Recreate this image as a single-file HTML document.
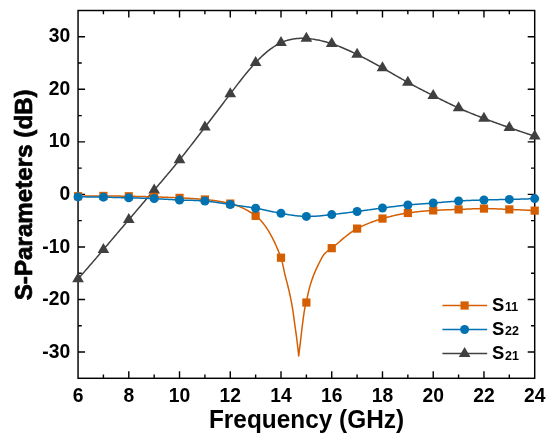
<!DOCTYPE html>
<html><head><meta charset="utf-8"><title>S-Parameters</title>
<style>
html,body{margin:0;padding:0;background:#fff;}
body{width:550px;height:442px;overflow:hidden;}
svg{display:block;}
svg text{font-family:"Liberation Sans",Arial,Helvetica,sans-serif;fill:#000;}
</style></head><body>
<svg width="550" height="442" viewBox="0 0 550 442">
<rect width="550" height="442" fill="#fff"/>
<rect x="78.05" y="10.51" width="456.65" height="367.78" fill="none" stroke="#000" stroke-width="1.45"/>
<path d="M103.42,378.29v-3.7M103.42,10.51v3.7M128.79,378.29v-7.0M128.79,10.51v7.0M154.16,378.29v-3.7M154.16,10.51v3.7M179.53,378.29v-7.0M179.53,10.51v7.0M204.90,378.29v-3.7M204.90,10.51v3.7M230.27,378.29v-7.0M230.27,10.51v7.0M255.64,378.29v-3.7M255.64,10.51v3.7M281.01,378.29v-7.0M281.01,10.51v7.0M306.38,378.29v-3.7M306.38,10.51v3.7M331.74,378.29v-7.0M331.74,10.51v7.0M357.11,378.29v-3.7M357.11,10.51v3.7M382.48,378.29v-7.0M382.48,10.51v7.0M407.85,378.29v-3.7M407.85,10.51v3.7M433.22,378.29v-7.0M433.22,10.51v7.0M458.59,378.29v-3.7M458.59,10.51v3.7M483.96,378.29v-7.0M483.96,10.51v7.0M509.33,378.29v-3.7M509.33,10.51v3.7M78.05,352.02h7.0M534.7,352.02h-7.0M78.05,325.75h3.7M534.7,325.75h-3.7M78.05,299.48h7.0M534.7,299.48h-7.0M78.05,273.21h3.7M534.7,273.21h-3.7M78.05,246.94h7.0M534.7,246.94h-7.0M78.05,220.67h3.7M534.7,220.67h-3.7M78.05,194.40h7.0M534.7,194.40h-7.0M78.05,168.13h3.7M534.7,168.13h-3.7M78.05,141.86h7.0M534.7,141.86h-7.0M78.05,115.59h3.7M534.7,115.59h-3.7M78.05,89.32h7.0M534.7,89.32h-7.0M78.05,63.05h3.7M534.7,63.05h-3.7M78.05,36.78h7.0M534.7,36.78h-7.0" stroke="#000" stroke-width="1.4" fill="none"/>
<path d="M78.05,278.96 L79.19,277.66 L80.34,276.36 L81.48,275.06 L82.63,273.75 L83.77,272.44 L84.92,271.13 L86.06,269.81 L87.21,268.50 L88.35,267.18 L89.49,265.85 L90.64,264.53 L91.78,263.20 L92.93,261.87 L94.07,260.54 L95.22,259.20 L96.36,257.87 L97.51,256.53 L98.65,255.19 L99.80,253.85 L100.94,252.51 L102.08,251.17 L103.23,249.83 L104.37,248.48 L105.52,247.13 L106.66,245.79 L107.81,244.44 L108.95,243.09 L110.10,241.74 L111.24,240.39 L112.38,239.04 L113.53,237.69 L114.67,236.34 L115.82,234.99 L116.96,233.64 L118.11,232.29 L119.25,230.94 L120.40,229.59 L121.54,228.24 L122.68,226.90 L123.83,225.55 L124.97,224.20 L126.12,222.85 L127.26,221.51 L128.41,220.16 L129.55,218.82 L130.70,217.48 L131.84,216.14 L132.99,214.80 L134.13,213.46 L135.27,212.12 L136.42,210.78 L137.56,209.45 L138.71,208.11 L139.85,206.77 L141.00,205.44 L142.14,204.10 L143.29,202.77 L144.43,201.43 L145.57,200.10 L146.72,198.77 L147.86,197.43 L149.01,196.10 L150.15,194.76 L151.30,193.43 L152.44,192.10 L153.59,190.76 L154.73,189.43 L155.88,188.09 L157.02,186.75 L158.16,185.42 L159.31,184.08 L160.45,182.73 L161.60,181.39 L162.74,180.05 L163.89,178.70 L165.03,177.35 L166.18,175.99 L167.32,174.64 L168.46,173.27 L169.61,171.91 L170.75,170.54 L171.90,169.16 L173.04,167.78 L174.19,166.40 L175.33,165.01 L176.48,163.61 L177.62,162.21 L178.76,160.80 L179.91,159.39 L181.05,157.96 L182.20,156.54 L183.34,155.10 L184.49,153.66 L185.63,152.21 L186.78,150.76 L187.92,149.30 L189.07,147.84 L190.21,146.37 L191.35,144.90 L192.50,143.43 L193.64,141.95 L194.79,140.47 L195.93,138.98 L197.08,137.49 L198.22,136.00 L199.37,134.51 L200.51,133.01 L201.65,131.51 L202.80,130.02 L203.94,128.52 L205.09,127.01 L206.23,125.51 L207.38,124.01 L208.52,122.51 L209.67,121.00 L210.81,119.50 L211.95,117.99 L213.10,116.49 L214.24,114.98 L215.39,113.48 L216.53,111.97 L217.68,110.46 L218.82,108.96 L219.97,107.45 L221.11,105.94 L222.26,104.43 L223.40,102.93 L224.54,101.42 L225.69,99.91 L226.83,98.40 L227.98,96.90 L229.12,95.39 L230.27,93.88 L231.41,92.38 L232.56,90.87 L233.70,89.37 L234.84,87.87 L235.99,86.38 L237.13,84.89 L238.28,83.41 L239.42,81.94 L240.57,80.47 L241.71,79.02 L242.86,77.58 L244.00,76.15 L245.14,74.73 L246.29,73.33 L247.43,71.95 L248.58,70.58 L249.72,69.23 L250.87,67.91 L252.01,66.60 L253.16,65.31 L254.30,64.05 L255.45,62.81 L256.59,61.59 L257.73,60.40 L258.88,59.24 L260.02,58.10 L261.17,56.99 L262.31,55.91 L263.46,54.86 L264.60,53.83 L265.75,52.84 L266.89,51.87 L268.03,50.94 L269.18,50.04 L270.32,49.17 L271.47,48.33 L272.61,47.52 L273.76,46.75 L274.90,46.01 L276.05,45.31 L277.19,44.64 L278.34,44.01 L279.48,43.41 L280.62,42.86 L281.77,42.33 L282.91,41.85 L284.06,41.40 L285.20,40.99 L286.35,40.61 L287.49,40.26 L288.64,39.94 L289.78,39.66 L290.92,39.41 L292.07,39.18 L293.21,38.99 L294.36,38.82 L295.50,38.68 L296.65,38.56 L297.79,38.47 L298.94,38.41 L300.08,38.36 L301.22,38.34 L302.37,38.34 L303.51,38.36 L304.66,38.39 L305.80,38.45 L306.95,38.52 L308.09,38.61 L309.24,38.72 L310.38,38.84 L311.53,38.97 L312.67,39.13 L313.81,39.29 L314.96,39.48 L316.10,39.67 L317.25,39.89 L318.39,40.11 L319.54,40.35 L320.68,40.61 L321.83,40.87 L322.97,41.16 L324.11,41.45 L325.26,41.76 L326.40,42.08 L327.55,42.41 L328.69,42.75 L329.84,43.11 L330.98,43.47 L332.13,43.85 L333.27,44.24 L334.41,44.64 L335.56,45.05 L336.70,45.48 L337.85,45.91 L338.99,46.35 L340.14,46.80 L341.28,47.26 L342.43,47.73 L343.57,48.21 L344.72,48.69 L345.86,49.19 L347.00,49.69 L348.15,50.20 L349.29,50.71 L350.44,51.24 L351.58,51.77 L352.73,52.31 L353.87,52.85 L355.02,53.40 L356.16,53.95 L357.30,54.52 L358.45,55.08 L359.59,55.65 L360.74,56.23 L361.88,56.81 L363.03,57.40 L364.17,57.99 L365.32,58.58 L366.46,59.18 L367.61,59.78 L368.75,60.39 L369.89,61.00 L371.04,61.62 L372.18,62.24 L373.33,62.86 L374.47,63.48 L375.62,64.11 L376.76,64.74 L377.91,65.38 L379.05,66.02 L380.19,66.66 L381.34,67.30 L382.48,67.95 L383.63,68.60 L384.77,69.25 L385.92,69.90 L387.06,70.55 L388.21,71.21 L389.35,71.87 L390.49,72.52 L391.64,73.18 L392.78,73.84 L393.93,74.49 L395.07,75.15 L396.22,75.81 L397.36,76.46 L398.51,77.12 L399.65,77.77 L400.80,78.42 L401.94,79.07 L403.08,79.71 L404.23,80.35 L405.37,80.99 L406.52,81.63 L407.66,82.26 L408.81,82.89 L409.95,83.52 L411.10,84.14 L412.24,84.75 L413.38,85.37 L414.53,85.98 L415.67,86.59 L416.82,87.19 L417.96,87.79 L419.11,88.39 L420.25,88.99 L421.40,89.59 L422.54,90.18 L423.68,90.77 L424.83,91.36 L425.97,91.94 L427.12,92.53 L428.26,93.11 L429.41,93.70 L430.55,94.28 L431.70,94.86 L432.84,95.44 L433.99,96.02 L435.13,96.60 L436.27,97.17 L437.42,97.75 L438.56,98.32 L439.71,98.90 L440.85,99.47 L442.00,100.04 L443.14,100.61 L444.29,101.17 L445.43,101.73 L446.57,102.29 L447.72,102.85 L448.86,103.40 L450.01,103.95 L451.15,104.50 L452.30,105.04 L453.44,105.58 L454.59,106.12 L455.73,106.65 L456.87,107.17 L458.02,107.69 L459.16,108.21 L460.31,108.72 L461.45,109.23 L462.60,109.73 L463.74,110.23 L464.89,110.72 L466.03,111.21 L467.18,111.69 L468.32,112.17 L469.46,112.64 L470.61,113.12 L471.75,113.58 L472.90,114.05 L474.04,114.51 L475.19,114.97 L476.33,115.42 L477.48,115.88 L478.62,116.32 L479.76,116.77 L480.91,117.21 L482.05,117.66 L483.20,118.09 L484.34,118.53 L485.49,118.97 L486.63,119.40 L487.78,119.83 L488.92,120.26 L490.07,120.69 L491.21,121.11 L492.35,121.53 L493.50,121.95 L494.64,122.37 L495.79,122.79 L496.93,123.21 L498.08,123.62 L499.22,124.03 L500.37,124.45 L501.51,124.85 L502.65,125.26 L503.80,125.67 L504.94,126.07 L506.09,126.48 L507.23,126.88 L508.38,127.28 L509.52,127.68 L510.67,128.08 L511.81,128.48 L512.95,128.87 L514.10,129.27 L515.24,129.66 L516.39,130.05 L517.53,130.44 L518.68,130.83 L519.82,131.22 L520.97,131.61 L522.11,132.00 L523.26,132.39 L524.40,132.77 L525.54,133.16 L526.69,133.54 L527.83,133.92 L528.98,134.31 L530.12,134.69 L531.27,135.07 L532.41,135.45 L533.56,135.83 L534.70,136.21" fill="none" stroke="#404040" stroke-width="1.5"/>
<g fill="#404040"><path d="M78.05,272.30L83.90,282.30L72.20,282.30Z"/><path d="M103.42,242.93L109.27,252.93L97.57,252.93Z"/><path d="M128.79,213.05L134.64,223.05L122.94,223.05Z"/><path d="M154.16,183.43L160.01,193.43L148.31,193.43Z"/><path d="M179.53,153.19L185.38,163.19L173.68,163.19Z"/><path d="M204.90,120.60L210.75,130.60L199.05,130.60Z"/><path d="M230.27,87.22L236.12,97.22L224.42,97.22Z"/><path d="M255.64,55.93L261.49,65.93L249.79,65.93Z"/><path d="M281.01,36.01L286.86,46.01L275.16,46.01Z"/><path d="M306.38,31.82L312.23,41.82L300.52,41.82Z"/><path d="M331.74,37.06L337.59,47.06L325.89,47.06Z"/><path d="M357.11,47.75L362.96,57.75L351.26,57.75Z"/><path d="M382.48,61.28L388.33,71.28L376.63,71.28Z"/><path d="M407.85,75.70L413.70,85.70L402.00,85.70Z"/><path d="M433.22,88.96L439.07,98.96L427.37,98.96Z"/><path d="M458.59,101.29L464.44,111.29L452.74,111.29Z"/><path d="M483.96,111.72L489.81,121.72L478.11,121.72Z"/><path d="M509.33,120.95L515.18,130.95L503.48,130.95Z"/><path d="M534.70,129.55L540.55,139.55L528.85,139.55Z"/></g>
<path d="M78.05,196.25 L78.79,196.24 L79.53,196.22 L80.26,196.20 L81.00,196.19 L81.74,196.17 L82.48,196.15 L83.22,196.14 L83.95,196.13 L84.69,196.11 L85.43,196.10 L86.17,196.09 L86.91,196.07 L87.64,196.06 L88.38,196.05 L89.12,196.04 L89.86,196.03 L90.60,196.02 L91.33,196.01 L92.07,196.00 L92.81,195.99 L93.55,195.99 L94.29,195.98 L95.02,195.97 L95.76,195.97 L96.50,195.96 L97.24,195.96 L97.97,195.95 L98.71,195.95 L99.45,195.95 L100.19,195.95 L100.93,195.94 L101.66,195.94 L102.40,195.94 L103.14,195.94 L103.88,195.94 L104.62,195.94 L105.35,195.94 L106.09,195.95 L106.83,195.95 L107.57,195.95 L108.31,195.96 L109.04,195.96 L109.78,195.97 L110.52,195.98 L111.26,195.98 L112.00,195.99 L112.73,196.00 L113.47,196.01 L114.21,196.02 L114.95,196.03 L115.69,196.04 L116.42,196.05 L117.16,196.06 L117.90,196.07 L118.64,196.08 L119.38,196.10 L120.11,196.11 L120.85,196.12 L121.59,196.13 L122.33,196.14 L123.07,196.16 L123.80,196.17 L124.54,196.18 L125.28,196.20 L126.02,196.21 L126.76,196.22 L127.49,196.23 L128.23,196.25 L128.97,196.26 L129.71,196.27 L130.45,196.28 L131.18,196.30 L131.92,196.31 L132.66,196.32 L133.40,196.34 L134.13,196.35 L134.87,196.37 L135.61,196.39 L136.35,196.40 L137.09,196.42 L137.82,196.44 L138.56,196.45 L139.30,196.47 L140.04,196.49 L140.78,196.51 L141.51,196.53 L142.25,196.55 L142.99,196.57 L143.73,196.58 L144.47,196.60 L145.20,196.62 L145.94,196.64 L146.68,196.67 L147.42,196.69 L148.16,196.71 L148.89,196.73 L149.63,196.75 L150.37,196.77 L151.11,196.79 L151.85,196.81 L152.58,196.84 L153.32,196.86 L154.06,196.88 L154.80,196.90 L155.54,196.93 L156.27,196.95 L157.01,196.97 L157.75,197.00 L158.49,197.02 L159.23,197.04 L159.96,197.07 L160.70,197.09 L161.44,197.12 L162.18,197.14 L162.92,197.17 L163.65,197.20 L164.39,197.22 L165.13,197.25 L165.87,197.28 L166.61,197.31 L167.34,197.33 L168.08,197.36 L168.82,197.39 L169.56,197.42 L170.29,197.45 L171.03,197.48 L171.77,197.51 L172.51,197.54 L173.25,197.57 L173.98,197.61 L174.72,197.64 L175.46,197.67 L176.20,197.70 L176.94,197.74 L177.67,197.77 L178.41,197.81 L179.15,197.84 L179.89,197.88 L180.63,197.91 L181.36,197.95 L182.10,197.99 L182.84,198.02 L183.58,198.06 L184.32,198.10 L185.05,198.13 L185.79,198.17 L186.53,198.21 L187.27,198.25 L188.01,198.29 L188.74,198.33 L189.48,198.37 L190.22,198.42 L190.96,198.46 L191.70,198.50 L192.43,198.55 L193.17,198.59 L193.91,198.64 L194.65,198.69 L195.39,198.74 L196.12,198.79 L196.86,198.84 L197.60,198.89 L198.34,198.95 L199.08,199.00 L199.81,199.06 L200.55,199.11 L201.29,199.17 L202.03,199.23 L202.77,199.30 L203.50,199.36 L204.24,199.43 L204.98,199.49 L205.72,199.56 L206.46,199.63 L207.19,199.71 L207.93,199.79 L208.67,199.87 L209.41,199.95 L210.14,200.03 L210.88,200.12 L211.62,200.21 L212.36,200.31 L213.10,200.40 L213.83,200.50 L214.57,200.60 L215.31,200.71 L216.05,200.82 L216.79,200.93 L217.52,201.05 L218.26,201.16 L219.00,201.28 L219.74,201.41 L220.48,201.54 L221.21,201.67 L221.95,201.80 L222.69,201.94 L223.43,202.08 L224.17,202.23 L224.90,202.38 L225.64,202.53 L226.38,202.69 L227.12,202.85 L227.86,203.01 L228.59,203.18 L229.33,203.35 L230.07,203.53 L230.81,203.71 L231.55,203.90 L232.28,204.10 L233.02,204.31 L233.76,204.53 L234.50,204.76 L235.24,205.00 L235.97,205.25 L236.71,205.50 L237.45,205.77 L238.19,206.05 L238.93,206.34 L239.66,206.64 L240.40,206.95 L241.14,207.28 L241.88,207.61 L242.62,207.95 L243.35,208.31 L244.09,208.67 L244.83,209.05 L245.57,209.43 L246.30,209.83 L247.04,210.24 L247.78,210.66 L248.52,211.09 L249.26,211.54 L249.99,211.99 L250.73,212.46 L251.47,212.94 L252.21,213.43 L252.95,213.93 L253.68,214.44 L254.42,214.97 L255.16,215.51 L255.90,216.06 L256.64,216.64 L257.37,217.26 L258.11,217.91 L258.85,218.59 L259.59,219.31 L260.33,220.07 L261.06,220.86 L261.80,221.69 L262.54,222.56 L263.28,223.46 L264.02,224.40 L264.75,225.38 L265.49,226.40 L266.23,227.46 L266.97,228.56 L267.71,229.70 L268.44,230.88 L269.18,232.10 L269.92,233.37 L270.66,234.67 L271.40,236.02 L272.13,237.41 L272.87,238.85 L273.61,240.33 L274.35,241.85 L275.09,243.42 L275.82,245.04 L276.56,246.70 L277.30,248.41 L278.04,250.16 L278.78,251.96 L279.51,253.81 L280.25,255.71 L280.99,257.66 L281.73,260.04 L282.46,263.09 L283.20,266.54 L283.94,270.09 L284.68,273.46 L285.42,276.49 L286.15,279.36 L286.89,282.18 L287.63,285.03 L288.37,288.00 L289.11,291.17 L289.84,294.49 L290.58,297.94 L291.32,301.62 L292.06,305.61 L292.80,310.08 L293.53,315.19 L294.27,320.63 L295.01,326.07 L295.75,331.35 L296.49,336.72 L297.22,342.50 L297.96,348.92 L298.70,355.90 L298.70,355.90 L299.29,351.17 L299.88,346.36 L300.47,341.48 L301.07,336.46 L301.66,331.20 L302.25,326.09 L302.84,321.48 L303.43,317.08 L304.02,312.97 L304.61,309.38 L305.21,306.52 L305.80,304.15 L306.39,301.66 L306.98,298.92 L307.57,296.08 L308.16,293.26 L308.76,290.59 L309.35,288.20 L309.94,286.08 L310.53,284.09 L311.12,282.21 L311.71,280.43 L312.30,278.74 L312.90,277.13 L313.49,275.58 L314.08,274.08 L314.67,272.65 L315.26,271.26 L315.85,269.92 L316.44,268.63 L317.04,267.37 L317.63,266.15 L318.22,264.95 L318.81,263.78 L319.40,262.61 L319.99,261.42 L320.58,260.24 L321.18,259.09 L321.77,257.97 L322.36,256.92 L322.95,255.94 L323.54,255.06 L324.13,254.29 L324.73,253.64 L325.32,253.04 L325.91,252.50 L326.50,251.99 L327.09,251.51 L327.68,251.07 L328.27,250.64 L328.87,250.23 L329.46,249.82 L330.05,249.41 L330.64,248.99 L331.23,248.55 L331.82,248.10 L332.41,247.63 L333.01,247.16 L333.60,246.68 L334.19,246.19 L334.78,245.70 L335.37,245.21 L335.96,244.72 L336.55,244.22 L337.15,243.72 L337.74,243.22 L338.33,242.71 L338.92,242.21 L339.51,241.70 L340.10,241.20 L340.69,240.69 L341.29,240.19 L341.88,239.69 L342.47,239.19 L343.06,238.69 L343.65,238.19 L344.24,237.70 L344.84,237.21 L345.43,236.72 L346.02,236.24 L346.61,235.76 L347.20,235.29 L347.79,234.83 L348.38,234.37 L348.98,233.92 L349.57,233.47 L350.16,233.03 L350.75,232.60 L351.34,232.18 L351.93,231.77 L352.52,231.36 L353.12,230.97 L353.71,230.59 L354.30,230.22 L354.89,229.85 L355.48,229.50 L356.07,229.17 L356.66,228.84 L357.26,228.53 L357.85,228.22 L358.44,227.92 L359.03,227.62 L359.62,227.33 L360.21,227.04 L360.81,226.75 L361.40,226.47 L361.99,226.19 L362.58,225.91 L363.17,225.64 L363.76,225.38 L364.35,225.11 L364.95,224.85 L365.54,224.59 L366.13,224.34 L366.72,224.09 L367.31,223.84 L367.90,223.60 L368.49,223.36 L369.09,223.12 L369.68,222.89 L370.27,222.66 L370.86,222.43 L371.45,222.21 L372.04,221.99 L372.63,221.77 L373.23,221.55 L373.82,221.34 L374.41,221.14 L375.00,220.93 L375.59,220.73 L376.18,220.53 L376.78,220.33 L377.37,220.14 L377.96,219.95 L378.55,219.76 L379.14,219.58 L379.73,219.40 L380.32,219.22 L380.92,219.04 L381.51,218.87 L382.10,218.70 L382.69,218.53 L383.28,218.36 L383.87,218.20 L384.46,218.03 L385.06,217.87 L385.65,217.71 L386.24,217.55 L386.83,217.39 L387.42,217.23 L388.01,217.08 L388.60,216.92 L389.20,216.77 L389.79,216.62 L390.38,216.47 L390.97,216.32 L391.56,216.18 L392.15,216.03 L392.75,215.89 L393.34,215.75 L393.93,215.61 L394.52,215.47 L395.11,215.34 L395.70,215.21 L396.29,215.08 L396.89,214.95 L397.48,214.82 L398.07,214.70 L398.66,214.57 L399.25,214.45 L399.84,214.33 L400.43,214.22 L401.03,214.11 L401.62,213.99 L402.21,213.89 L402.80,213.78 L403.39,213.68 L403.98,213.58 L404.57,213.48 L405.17,213.38 L405.76,213.29 L406.35,213.20 L406.94,213.11 L407.53,213.02 L408.12,212.94 L408.72,212.86 L409.31,212.78 L409.90,212.70 L410.49,212.62 L411.08,212.54 L411.67,212.47 L412.26,212.39 L412.86,212.32 L413.45,212.24 L414.04,212.17 L414.63,212.10 L415.22,212.03 L415.81,211.96 L416.40,211.89 L417.00,211.82 L417.59,211.75 L418.18,211.69 L418.77,211.62 L419.36,211.56 L419.95,211.49 L420.54,211.43 L421.14,211.37 L421.73,211.31 L422.32,211.26 L422.91,211.20 L423.50,211.14 L424.09,211.09 L424.68,211.04 L425.28,210.98 L425.87,210.93 L426.46,210.88 L427.05,210.83 L427.64,210.79 L428.23,210.74 L428.83,210.70 L429.42,210.65 L430.01,210.61 L430.60,210.57 L431.19,210.53 L431.78,210.50 L432.37,210.46 L432.97,210.43 L433.56,210.39 L434.15,210.36 L434.74,210.33 L435.33,210.30 L435.92,210.27 L436.51,210.24 L437.11,210.21 L437.70,210.18 L438.29,210.15 L438.88,210.13 L439.47,210.10 L440.06,210.07 L440.65,210.05 L441.25,210.02 L441.84,210.00 L442.43,209.98 L443.02,209.95 L443.61,209.93 L444.20,209.91 L444.80,209.89 L445.39,209.87 L445.98,209.84 L446.57,209.82 L447.16,209.80 L447.75,209.78 L448.34,209.76 L448.94,209.74 L449.53,209.72 L450.12,209.70 L450.71,209.68 L451.30,209.66 L451.89,209.64 L452.48,209.62 L453.08,209.60 L453.67,209.58 L454.26,209.56 L454.85,209.54 L455.44,209.52 L456.03,209.50 L456.62,209.48 L457.22,209.46 L457.81,209.44 L458.40,209.42 L458.99,209.40 L459.58,209.38 L460.17,209.36 L460.77,209.33 L461.36,209.31 L461.95,209.28 L462.54,209.26 L463.13,209.23 L463.72,209.21 L464.31,209.18 L464.91,209.16 L465.50,209.13 L466.09,209.10 L466.68,209.08 L467.27,209.05 L467.86,209.03 L468.45,209.00 L469.05,208.97 L469.64,208.95 L470.23,208.92 L470.82,208.90 L471.41,208.88 L472.00,208.85 L472.59,208.83 L473.19,208.81 L473.78,208.78 L474.37,208.76 L474.96,208.74 L475.55,208.72 L476.14,208.71 L476.74,208.69 L477.33,208.67 L477.92,208.66 L478.51,208.64 L479.10,208.63 L479.69,208.62 L480.28,208.61 L480.88,208.60 L481.47,208.59 L482.06,208.58 L482.65,208.58 L483.24,208.58 L483.83,208.58 L484.42,208.58 L485.02,208.58 L485.61,208.58 L486.20,208.59 L486.79,208.59 L487.38,208.60 L487.97,208.61 L488.56,208.62 L489.16,208.63 L489.75,208.65 L490.34,208.66 L490.93,208.68 L491.52,208.69 L492.11,208.71 L492.71,208.73 L493.30,208.75 L493.89,208.77 L494.48,208.79 L495.07,208.81 L495.66,208.83 L496.25,208.86 L496.85,208.88 L497.44,208.90 L498.03,208.93 L498.62,208.95 L499.21,208.98 L499.80,209.00 L500.39,209.03 L500.99,209.06 L501.58,209.08 L502.17,209.11 L502.76,209.13 L503.35,209.16 L503.94,209.19 L504.53,209.21 L505.13,209.24 L505.72,209.26 L506.31,209.29 L506.90,209.32 L507.49,209.34 L508.08,209.36 L508.67,209.39 L509.27,209.41 L509.86,209.44 L510.45,209.46 L511.04,209.48 L511.63,209.51 L512.22,209.53 L512.82,209.55 L513.41,209.58 L514.00,209.60 L514.59,209.63 L515.18,209.66 L515.77,209.68 L516.36,209.71 L516.96,209.73 L517.55,209.76 L518.14,209.79 L518.73,209.81 L519.32,209.84 L519.91,209.87 L520.50,209.90 L521.10,209.92 L521.69,209.95 L522.28,209.98 L522.87,210.01 L523.46,210.04 L524.05,210.07 L524.64,210.10 L525.24,210.12 L525.83,210.15 L526.42,210.18 L527.01,210.21 L527.60,210.24 L528.19,210.27 L528.79,210.30 L529.38,210.34 L529.97,210.37 L530.56,210.40 L531.15,210.43 L531.74,210.46 L532.33,210.49 L532.93,210.52 L533.52,210.56 L534.11,210.59 L534.70,210.62" fill="none" stroke="#d55e00" stroke-width="1.5" stroke-linejoin="round"/>
<g fill="#d55e00"><rect x="73.95" y="192.15" width="8.2" height="8.2"/><rect x="99.32" y="191.84" width="8.2" height="8.2"/><rect x="124.69" y="192.15" width="8.2" height="8.2"/><rect x="150.06" y="192.78" width="8.2" height="8.2"/><rect x="175.43" y="193.76" width="8.2" height="8.2"/><rect x="200.80" y="195.39" width="8.2" height="8.2"/><rect x="226.17" y="199.48" width="8.2" height="8.2"/><rect x="251.54" y="211.76" width="8.2" height="8.2"/><rect x="276.91" y="253.60" width="8.2" height="8.2"/><rect x="302.27" y="298.43" width="8.2" height="8.2"/><rect x="327.64" y="244.06" width="8.2" height="8.2"/><rect x="353.01" y="224.50" width="8.2" height="8.2"/><rect x="378.38" y="214.49" width="8.2" height="8.2"/><rect x="403.75" y="208.88" width="8.2" height="8.2"/><rect x="429.12" y="206.31" width="8.2" height="8.2"/><rect x="454.49" y="205.31" width="8.2" height="8.2"/><rect x="479.86" y="204.48" width="8.2" height="8.2"/><rect x="505.23" y="205.31" width="8.2" height="8.2"/><rect x="530.60" y="206.52" width="8.2" height="8.2"/></g>
<path d="M78.05,196.88 L79.19,196.88 L80.34,196.87 L81.48,196.87 L82.63,196.87 L83.77,196.87 L84.92,196.87 L86.06,196.88 L87.21,196.88 L88.35,196.89 L89.49,196.90 L90.64,196.92 L91.78,196.93 L92.93,196.95 L94.07,196.96 L95.22,196.98 L96.36,197.00 L97.51,197.02 L98.65,197.04 L99.80,197.07 L100.94,197.09 L102.08,197.12 L103.23,197.14 L104.37,197.17 L105.52,197.20 L106.66,197.22 L107.81,197.25 L108.95,197.28 L110.10,197.31 L111.24,197.34 L112.38,197.38 L113.53,197.41 L114.67,197.44 L115.82,197.47 L116.96,197.50 L118.11,197.54 L119.25,197.57 L120.40,197.60 L121.54,197.63 L122.68,197.66 L123.83,197.70 L124.97,197.73 L126.12,197.76 L127.26,197.79 L128.41,197.82 L129.55,197.85 L130.70,197.88 L131.84,197.90 L132.99,197.93 L134.13,197.96 L135.27,197.99 L136.42,198.02 L137.56,198.05 L138.71,198.08 L139.85,198.11 L141.00,198.14 L142.14,198.17 L143.29,198.20 L144.43,198.24 L145.57,198.27 L146.72,198.31 L147.86,198.35 L149.01,198.39 L150.15,198.44 L151.30,198.49 L152.44,198.54 L153.59,198.59 L154.73,198.64 L155.88,198.70 L157.02,198.76 L158.16,198.82 L159.31,198.88 L160.45,198.95 L161.60,199.02 L162.74,199.08 L163.89,199.15 L165.03,199.22 L166.18,199.29 L167.32,199.36 L168.46,199.42 L169.61,199.49 L170.75,199.55 L171.90,199.62 L173.04,199.68 L174.19,199.74 L175.33,199.80 L176.48,199.85 L177.62,199.90 L178.76,199.95 L179.91,199.99 L181.05,200.03 L182.20,200.07 L183.34,200.10 L184.49,200.13 L185.63,200.17 L186.78,200.20 L187.92,200.23 L189.07,200.26 L190.21,200.29 L191.35,200.32 L192.50,200.35 L193.64,200.39 L194.79,200.43 L195.93,200.48 L197.08,200.53 L198.22,200.58 L199.37,200.64 L200.51,200.71 L201.65,200.78 L202.80,200.86 L203.94,200.95 L205.09,201.04 L206.23,201.15 L207.38,201.26 L208.52,201.38 L209.67,201.51 L210.81,201.65 L211.95,201.79 L213.10,201.94 L214.24,202.09 L215.39,202.25 L216.53,202.41 L217.68,202.58 L218.82,202.75 L219.97,202.92 L221.11,203.09 L222.26,203.26 L223.40,203.44 L224.54,203.62 L225.69,203.79 L226.83,203.97 L227.98,204.14 L229.12,204.32 L230.27,204.49 L231.41,204.65 L232.56,204.82 L233.70,204.98 L234.84,205.15 L235.99,205.31 L237.13,205.47 L238.28,205.63 L239.42,205.79 L240.57,205.94 L241.71,206.11 L242.86,206.27 L244.00,206.43 L245.14,206.60 L246.29,206.76 L247.43,206.93 L248.58,207.11 L249.72,207.28 L250.87,207.46 L252.01,207.65 L253.16,207.83 L254.30,208.03 L255.45,208.23 L256.59,208.43 L257.73,208.64 L258.88,208.86 L260.02,209.08 L261.17,209.30 L262.31,209.53 L263.46,209.76 L264.60,209.99 L265.75,210.22 L266.89,210.46 L268.03,210.70 L269.18,210.94 L270.32,211.18 L271.47,211.42 L272.61,211.66 L273.76,211.89 L274.90,212.13 L276.05,212.36 L277.19,212.60 L278.34,212.83 L279.48,213.05 L280.62,213.27 L281.77,213.49 L282.91,213.71 L284.06,213.91 L285.20,214.12 L286.35,214.31 L287.49,214.51 L288.64,214.69 L289.78,214.87 L290.92,215.04 L292.07,215.20 L293.21,215.35 L294.36,215.50 L295.50,215.63 L296.65,215.76 L297.79,215.88 L298.94,215.98 L300.08,216.08 L301.22,216.16 L302.37,216.23 L303.51,216.29 L304.66,216.34 L305.80,216.38 L306.95,216.40 L308.09,216.40 L309.24,216.40 L310.38,216.38 L311.53,216.36 L312.67,216.32 L313.81,216.27 L314.96,216.21 L316.10,216.14 L317.25,216.06 L318.39,215.98 L319.54,215.89 L320.68,215.79 L321.83,215.68 L322.97,215.57 L324.11,215.46 L325.26,215.34 L326.40,215.22 L327.55,215.09 L328.69,214.96 L329.84,214.83 L330.98,214.69 L332.13,214.56 L333.27,214.43 L334.41,214.29 L335.56,214.15 L336.70,214.02 L337.85,213.88 L338.99,213.74 L340.14,213.61 L341.28,213.47 L342.43,213.33 L343.57,213.19 L344.72,213.05 L345.86,212.90 L347.00,212.76 L348.15,212.62 L349.29,212.47 L350.44,212.33 L351.58,212.18 L352.73,212.03 L353.87,211.88 L355.02,211.74 L356.16,211.59 L357.30,211.43 L358.45,211.28 L359.59,211.13 L360.74,210.97 L361.88,210.82 L363.03,210.66 L364.17,210.51 L365.32,210.35 L366.46,210.19 L367.61,210.04 L368.75,209.88 L369.89,209.72 L371.04,209.56 L372.18,209.40 L373.33,209.25 L374.47,209.09 L375.62,208.93 L376.76,208.77 L377.91,208.62 L379.05,208.46 L380.19,208.31 L381.34,208.15 L382.48,208.00 L383.63,207.85 L384.77,207.69 L385.92,207.54 L387.06,207.39 L388.21,207.25 L389.35,207.10 L390.49,206.95 L391.64,206.81 L392.78,206.67 L393.93,206.53 L395.07,206.39 L396.22,206.25 L397.36,206.12 L398.51,205.99 L399.65,205.86 L400.80,205.73 L401.94,205.61 L403.08,205.49 L404.23,205.37 L405.37,205.25 L406.52,205.14 L407.66,205.03 L408.81,204.92 L409.95,204.82 L411.10,204.72 L412.24,204.62 L413.38,204.52 L414.53,204.43 L415.67,204.34 L416.82,204.25 L417.96,204.16 L419.11,204.07 L420.25,203.99 L421.40,203.90 L422.54,203.82 L423.68,203.73 L424.83,203.65 L425.97,203.56 L427.12,203.48 L428.26,203.39 L429.41,203.31 L430.55,203.22 L431.70,203.14 L432.84,203.05 L433.99,202.96 L435.13,202.87 L436.27,202.77 L437.42,202.68 L438.56,202.59 L439.71,202.49 L440.85,202.40 L442.00,202.30 L443.14,202.20 L444.29,202.11 L445.43,202.01 L446.57,201.92 L447.72,201.83 L448.86,201.74 L450.01,201.64 L451.15,201.56 L452.30,201.47 L453.44,201.38 L454.59,201.30 L455.73,201.22 L456.87,201.14 L458.02,201.06 L459.16,200.99 L460.31,200.92 L461.45,200.85 L462.60,200.79 L463.74,200.73 L464.89,200.67 L466.03,200.61 L467.18,200.56 L468.32,200.51 L469.46,200.46 L470.61,200.41 L471.75,200.36 L472.90,200.32 L474.04,200.28 L475.19,200.24 L476.33,200.20 L477.48,200.16 L478.62,200.13 L479.76,200.09 L480.91,200.06 L482.05,200.03 L483.20,200.00 L484.34,199.97 L485.49,199.94 L486.63,199.91 L487.78,199.88 L488.92,199.85 L490.07,199.83 L491.21,199.80 L492.35,199.77 L493.50,199.75 L494.64,199.72 L495.79,199.70 L496.93,199.67 L498.08,199.65 L499.22,199.62 L500.37,199.60 L501.51,199.57 L502.65,199.55 L503.80,199.52 L504.94,199.50 L506.09,199.47 L507.23,199.45 L508.38,199.42 L509.52,199.40 L510.67,199.37 L511.81,199.34 L512.95,199.31 L514.10,199.29 L515.24,199.26 L516.39,199.23 L517.53,199.20 L518.68,199.17 L519.82,199.13 L520.97,199.10 L522.11,199.07 L523.26,199.03 L524.40,199.00 L525.54,198.96 L526.69,198.92 L527.83,198.88 L528.98,198.84 L530.12,198.80 L531.27,198.75 L532.41,198.71 L533.56,198.66 L534.70,198.61" fill="none" stroke="#0072b2" stroke-width="1.5"/>
<g fill="#0072b2"><circle cx="78.05" cy="196.88" r="4.5"/><circle cx="103.42" cy="197.15" r="4.5"/><circle cx="128.79" cy="197.83" r="4.5"/><circle cx="154.16" cy="198.61" r="4.5"/><circle cx="179.53" cy="199.98" r="4.5"/><circle cx="204.90" cy="201.03" r="4.5"/><circle cx="230.27" cy="204.49" r="4.5"/><circle cx="255.64" cy="208.26" r="4.5"/><circle cx="281.01" cy="213.35" r="4.5"/><circle cx="306.38" cy="216.39" r="4.5"/><circle cx="331.74" cy="214.60" r="4.5"/><circle cx="357.11" cy="211.46" r="4.5"/><circle cx="382.48" cy="208.00" r="4.5"/><circle cx="407.85" cy="205.01" r="4.5"/><circle cx="433.22" cy="203.02" r="4.5"/><circle cx="458.59" cy="201.03" r="4.5"/><circle cx="483.96" cy="199.98" r="4.5"/><circle cx="509.33" cy="199.40" r="4.5"/><circle cx="534.70" cy="198.61" r="4.5"/></g>
<path d="M442.4,305.50H487.2" stroke="#d55e00" stroke-width="1.5"/>
<rect x="460.50" y="301.40" width="8.2" height="8.2" fill="#d55e00"/>
<text transform="translate(492.05,311.35) scale(0.96,1)" font-size="19.2" font-weight="bold">S<tspan font-size="13" dx="0.68" dy="0.05">11</tspan></text>
<path d="M442.4,329.55H487.2" stroke="#0072b2" stroke-width="1.5"/>
<circle cx="464.6" cy="329.55" r="4.5" fill="#0072b2"/>
<text transform="translate(492.05,335.40) scale(0.96,1)" font-size="19.2" font-weight="bold">S<tspan font-size="13" dx="0.68" dy="0.05">22</tspan></text>
<path d="M442.4,353.60H487.2" stroke="#404040" stroke-width="1.5"/>
<path d="M464.6,346.93L470.45000000000005,356.93L458.75,356.93Z" fill="#404040"/>
<text transform="translate(492.05,359.45) scale(0.96,1)" font-size="19.2" font-weight="bold">S<tspan font-size="13" dx="0.68" dy="0.05">21</tspan></text>
<text transform="translate(78.05,401.5) scale(0.965,1)" font-size="20" font-weight="bold" text-anchor="middle">6</text>
<text transform="translate(128.79,401.5) scale(0.965,1)" font-size="20" font-weight="bold" text-anchor="middle">8</text>
<text transform="translate(179.53,401.5) scale(0.965,1)" font-size="20" font-weight="bold" text-anchor="middle">10</text>
<text transform="translate(230.27,401.5) scale(0.965,1)" font-size="20" font-weight="bold" text-anchor="middle">12</text>
<text transform="translate(281.01,401.5) scale(0.965,1)" font-size="20" font-weight="bold" text-anchor="middle">14</text>
<text transform="translate(331.74,401.5) scale(0.965,1)" font-size="20" font-weight="bold" text-anchor="middle">16</text>
<text transform="translate(382.48,401.5) scale(0.965,1)" font-size="20" font-weight="bold" text-anchor="middle">18</text>
<text transform="translate(433.22,401.5) scale(0.965,1)" font-size="20" font-weight="bold" text-anchor="middle">20</text>
<text transform="translate(483.96,401.5) scale(0.965,1)" font-size="20" font-weight="bold" text-anchor="middle">22</text>
<text transform="translate(534.70,401.5) scale(0.965,1)" font-size="20" font-weight="bold" text-anchor="middle">24</text>
<text transform="translate(70.2,358.13) scale(0.965,1)" font-size="20" font-weight="bold" text-anchor="end">-30</text>
<text transform="translate(70.2,305.32) scale(0.965,1)" font-size="20" font-weight="bold" text-anchor="end">-20</text>
<text transform="translate(70.2,252.51) scale(0.965,1)" font-size="20" font-weight="bold" text-anchor="end">-10</text>
<text transform="translate(70.2,199.70) scale(0.965,1)" font-size="20" font-weight="bold" text-anchor="end">0</text>
<text transform="translate(70.2,147.16) scale(0.965,1)" font-size="20" font-weight="bold" text-anchor="end">10</text>
<text transform="translate(70.2,94.62) scale(0.965,1)" font-size="20" font-weight="bold" text-anchor="end">20</text>
<text transform="translate(70.2,42.08) scale(0.965,1)" font-size="20" font-weight="bold" text-anchor="end">30</text>
<text transform="translate(306.5,428) scale(0.968,1)" font-size="25.2" font-weight="bold" text-anchor="middle">Frequency (GHz)</text>
<text transform="translate(32.0,194.8) rotate(-90) scale(1.008,1)" font-size="24" font-weight="bold" text-anchor="middle" stroke="#000" stroke-width="0.7" stroke-linejoin="round">S-Parameters (dB)</text>
</svg>
</body></html>
